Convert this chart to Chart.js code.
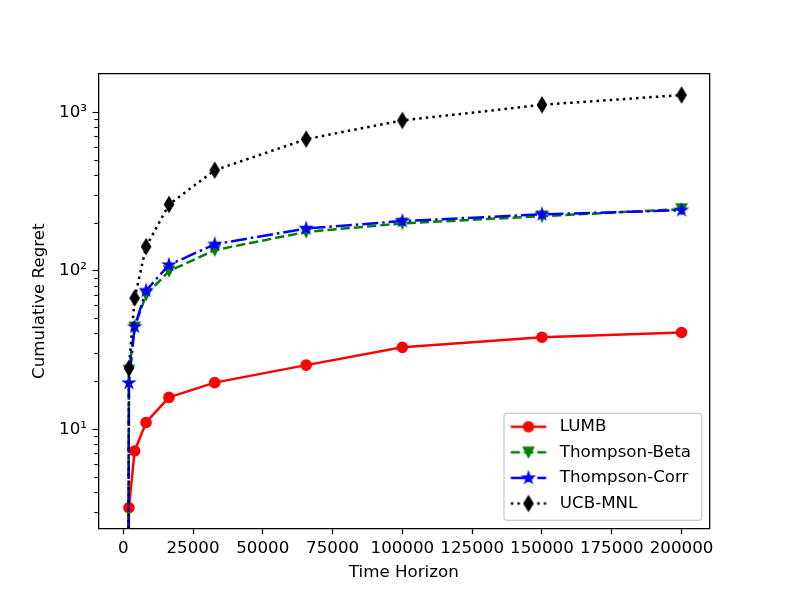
<!DOCTYPE html>
<html><head><meta charset="utf-8">
<script src="https://cdn.jsdelivr.net/npm/chart.js@4.4.0/dist/chart.umd.min.js"></script>
<style>html,body{margin:0;padding:0;background:#fff;}canvas{display:block;}</style>
</head><body>
<canvas id="c" width="790" height="599" style="width:790px;height:599px"></canvas>
<script>
// ---- data ----
const timeHorizon  = [1024, 2048, 4096, 8192, 16384, 32768, 65536, 100000, 150000, 200000];
const lumb         = [0, 3.2, 7.3, 11.05, 15.9, 19.7, 25.4, 32.9, 38.1, 40.8];
const thompsonBeta = [0, 23.5, 44, 70.5, 99.5, 135, 176, 199, 221, 245];
const thompsonCorr = [0, 19.6, 44.4, 75, 108.8, 147, 185, 206, 227, 241];
const ucbMnl       = [0, 24.3, 67.3, 142, 262, 431, 677, 888, 1115, 1285];
const seriesNames  = ['LUMB', 'Thompson-Beta', 'Thompson-Corr', 'UCB-MNL'];
const xTickValues  = [0, 25000, 50000, 75000, 100000, 125000, 150000, 175000, 200000];
const yMajorTicks  = [10, 100, 1000];
const yMajorLabels = ['10¹', '10²', '10³'];

// ---- styles ----
const FONT = 'DejaVu Sans';
const FS = 16.7;
const LW = 2.5;
const seriesStyle = [
  {color: '#ff0000', dash: [], marker: 'o'},
  {color: '#008000', dash: [9.25, 4], marker: 'v'},
  {color: '#0000ff', dash: [16, 4, 2.5, 4], marker: '*'},
  {color: '#000000', dash: [2.5, 4.1], marker: 'd'}
];
const seriesValues = [lumb, thompsonBeta, thompsonCorr, ucbMnl];

Chart.defaults.font.family = FONT;
Chart.defaults.font.size = FS;
Chart.defaults.color = '#000';

// non-positive values are clipped far below the log axis (as matplotlib does)
const TINY = 1e-6;
const toLog = v => (v > 0 ? v : TINY);

function mk(w, h, fn) {
  const c = document.createElement('canvas');
  c.width = w; c.height = h;
  fn(c.getContext('2d'));
  return c;
}
function markerPath(g, type, cx, cy) {
  g.beginPath();
  if (type === 'o') {
    g.arc(cx, cy, 5.0, 0, Math.PI * 2);
  } else if (type === 'v') {
    const s = 5.0;
    g.moveTo(cx, cy + s); g.lineTo(cx - s, cy - s); g.lineTo(cx + s, cy - s); g.closePath();
  } else if (type === '*') {
    const R = 5.6, r = R * 0.381966;
    for (let k = 0; k < 10; k++) {
      const rad = k % 2 ? r : R;
      const a = -Math.PI / 2 + k * Math.PI / 5;
      const px = cx + rad * Math.cos(a), py = cy + rad * Math.sin(a);
      if (k === 0) g.moveTo(px, py); else g.lineTo(px, py);
    }
    g.closePath();
  } else if (type === 'd') {
    g.moveTo(cx, cy - 7.3); g.lineTo(cx + 4.4, cy); g.lineTo(cx, cy + 7.3); g.lineTo(cx - 4.4, cy); g.closePath();
  }
}
function drawMarker(g, type, color, cx, cy) {
  markerPath(g, type, cx, cy);
  g.fillStyle = color; g.fill();
  g.lineWidth = 1.6; g.strokeStyle = color; g.lineJoin = 'miter'; g.stroke();
}
const pointImgs = seriesStyle.map(s => s.marker === 'o' ? 'circle' : mk(24, 24, g => drawMarker(g, s.marker, s.color, 12, 12)));
const legendImgs = seriesStyle.map(s => mk(46, 22, g => {
  g.strokeStyle = s.color; g.lineWidth = LW; g.setLineDash(s.dash);
  g.lineCap = s.dash.length ? 'butt' : 'square';
  g.beginPath(); g.moveTo(s.dash.length ? 5.3 : 6.5, 11); g.lineTo(s.dash.length ? 40.7 : 39.5, 11); g.stroke();
  g.setLineDash([]);
  drawMarker(g, s.marker, s.color, 23, 11);
}));

const datasets = seriesNames.map((name, i) => ({
  label: name,
  data: timeHorizon.map((x, j) => ({x: x, y: toLog(seriesValues[i][j])})),
  borderColor: seriesStyle[i].color,
  backgroundColor: seriesStyle[i].color,
  borderWidth: LW,
  borderDash: seriesStyle[i].dash,
  borderJoinStyle: 'round',
  pointStyle: pointImgs[i],
  pointRadius: 5.0,
  pointBorderWidth: 1.6,
  pointBackgroundColor: seriesStyle[i].color,
  pointBorderColor: seriesStyle[i].color,
  tension: 0,
  fill: false,
  order: seriesNames.length - 1 - i
}));

function frameRect(ca) {
  const R = ca.right - 7.6, B = ca.bottom - 8.0;
  return {L: R - 197.7, T: B - 107.0, R: R, B: B};
}
const legendPlacer = {
  id: 'legendPlacer',
  afterLayout(chart) {
    const lg = chart.legend; if (!lg) return;
    const f = frameRect(chart.chartArea);
    const p = lg.options.labels.padding;
    lg.left = f.L + 1.5 - p;
    lg.top = f.T + 5.05 - p;
    lg.right = f.R;
    lg.bottom = f.B + 14;
    lg.width = lg.right - lg.left;
    lg.height = lg.bottom - lg.top;
  },
  beforeDraw(chart) {
    const ctx = chart.ctx;
    const f = frameRect(chart.chartArea);
    const r = 3.3;
    ctx.save();
    ctx.beginPath();
    ctx.moveTo(f.L + r, f.T);
    ctx.lineTo(f.R - r, f.T); ctx.arcTo(f.R, f.T, f.R, f.T + r, r);
    ctx.lineTo(f.R, f.B - r); ctx.arcTo(f.R, f.B, f.R - r, f.B, r);
    ctx.lineTo(f.L + r, f.B); ctx.arcTo(f.L, f.B, f.L, f.B - r, r);
    ctx.lineTo(f.L, f.T + r); ctx.arcTo(f.L, f.T, f.L + r, f.T, r);
    ctx.closePath();
    ctx.fillStyle = 'rgba(255,255,255,0.8)'; ctx.fill();
    ctx.strokeStyle = '#cccccc'; ctx.lineWidth = 1.3; ctx.stroke();
    ctx.restore();
  }
};

const isMajorY = v => yMajorTicks.indexOf(v) >= 0;

new Chart(document.getElementById('c'), {
  type: 'line',
  data: {datasets: datasets},
  plugins: [legendPlacer],
  options: {
    responsive: false,
    animation: false,
    events: [],
    layout: {padding: {top: 74, right: 80.7, bottom: 0, left: 0}},
    plugins: {
      tooltip: {enabled: false},
      legend: {
        position: 'chartArea',
        align: 'start',
        labels: {
          usePointStyle: true,
          pointStyleWidth: 46,
          padding: 8.9,
          color: '#000',
          font: {family: FONT, size: FS},
          generateLabels: chart => chart.data.datasets.map((ds, i) => ({
            text: ds.label, pointStyle: legendImgs[i], datasetIndex: i, hidden: false,
            lineWidth: 0, strokeStyle: 'rgba(0,0,0,0)', fillStyle: 'rgba(0,0,0,0)', fontColor: '#000'
          }))
        }
      }
    },
    scales: {
      x: {
        type: 'linear', position: 'bottom', bounds: 'data',
        min: -8924.8, max: 209948.8,
        afterBuildTicks: s => { s.ticks = xTickValues.map(v => ({value: v})); },
        afterFit: s => { s.height = 70.7; },
        ticks: {autoSkip: false, maxRotation: 0, minRotation: 0, padding: 4.2, color: '#000',
                font: {family: FONT, size: FS}, callback: v => String(v)},
        grid: {display: true, drawOnChartArea: false, drawTicks: true, tickLength: 5.8, tickColor: '#000', tickWidth: 1.3},
        border: {display: true, color: '#000', width: 1.3},
        title: {display: true, text: 'Time Horizon', color: '#000', font: {family: FONT, size: FS},
                padding: {top: 0, bottom: 16}}
      },
      y: {
        type: 'logarithmic', position: 'left', bounds: 'data',
        min: 2.374, max: 1744,
        afterBuildTicks: s => {
          const t = [];
          yMajorTicks.forEach(m => {
            for (let k = 1; k <= 9; k++) {
              const val = m / 10 * k;
              if (val >= s.min && val <= s.max) t.push({value: val});
            }
          });
          const top = yMajorTicks[yMajorTicks.length - 1];
          if (top >= s.min && top <= s.max && !t.some(o => o.value === top)) t.push({value: top});
          t.sort((a, b) => a.value - b.value);
          s.ticks = t;
        },
        afterFit: s => { s.width = 98.3; },
        ticks: {autoSkip: false, padding: 5.5, color: '#000', font: {family: FONT, size: FS},
                callback: v => { const i = yMajorTicks.indexOf(v); return i >= 0 ? yMajorLabels[i] : ''; }},
        grid: {display: true, drawOnChartArea: false, drawTicks: true, tickLength: 5.8, tickColor: '#000', tickWidth: 1.1,
               tickBorderDash: c => (c.tick && !isMajorY(c.tick.value)) ? [3.5, 1.8] : [],
               tickBorderDashOffset: c => (c.tick && !isMajorY(c.tick.value)) ? 3.5 : 0},
        border: {display: true, color: '#000', width: 1.3},
        title: {display: true, text: 'Cumulative Regret', color: '#000', font: {family: FONT, size: FS},
                padding: {top: 29.5, bottom: 0}}
      },
      x2: {
        type: 'linear', position: 'top', min: 0, max: 1,
        afterFit: s => { s.height = 0; },
        ticks: {display: false}, grid: {display: false, drawTicks: false},
        border: {display: true, color: '#000', width: 1.3}
      },
      y2: {
        type: 'linear', position: 'right', min: 0, max: 1,
        afterFit: s => { s.width = 0; },
        ticks: {display: false}, grid: {display: false, drawTicks: false},
        border: {display: true, color: '#000', width: 1.3}
      }
    }
  }
});
</script>
</body></html>
